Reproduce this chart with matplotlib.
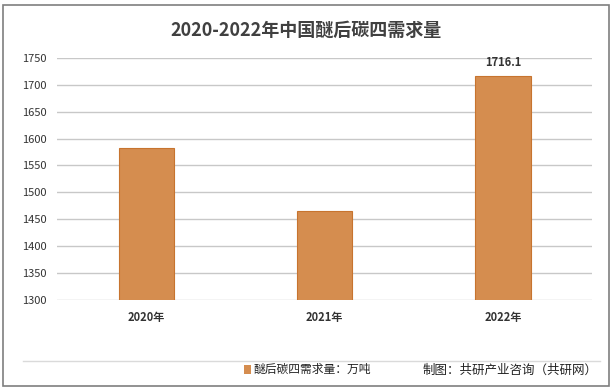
import matplotlib.pyplot as plt
from matplotlib.patches import Rectangle
from matplotlib.lines import Line2D

plt.rcParams['font.family'] = ['Noto Sans CJK SC', 'DejaVu Sans']

years = ["2020年", "2021年", "2022年"]
demand = [1583.0, 1465.0, 1716.1]
yticks = [1300, 1350, 1400, 1450, 1500, 1550, 1600, 1650, 1700, 1750]
title = "2020-2022年中国醚后碳四需求量"
legend_label = "醚后碳四需求量：万吨"
source = "制图：共研产业咨询（共研网）"

fig = plt.figure(figsize=(6.13, 3.91), dpi=100)
ax = fig.add_axes([0.093, 0.233, 0.873, 0.619])

x = range(len(years))
ax.bar(x, demand, width=0.31, color="#D58D4F", edgecolor="#C7742F", linewidth=0.8,
       zorder=3, label=legend_label)
ax.set_ylim(1300, 1750)
ax.set_xlim(-0.5, 2.5)
ax.set_yticks(yticks)
ax.set_xticks(list(x))
ax.set_xticklabels(years, fontsize=8, fontweight="bold", color="#333333")
ax.tick_params(axis="y", labelsize=8, colors="#333333", length=0, pad=25)
ax.tick_params(axis="x", length=0, pad=8)
for lab in ax.get_yticklabels():
    lab.set_horizontalalignment("left")
ax.grid(axis="y", color="#C8C8C8", linewidth=1, zorder=0)
for s in ax.spines.values():
    s.set_visible(False)

# only the last bar is labelled
ax.text(2, demand[2] + 25, f"{demand[2]:.1f}", ha="center", va="center",
        fontsize=8, color="#333333", fontweight="bold")

fig.text(0.5, 0.922, title, ha="center", va="center", fontsize=13,
         fontweight="bold", color="#404040")

# outer border and bottom rule
fig.add_artist(Rectangle((0.005, 0.013), 0.988, 0.975, transform=fig.transFigure,
                         fill=False, edgecolor="#7F7F7F", linewidth=1.2))
fig.add_artist(Line2D([0.038, 0.978], [0.077, 0.077], transform=fig.transFigure,
                      color="#DADADA", linewidth=1))

fig.add_artist(Rectangle((0.398, 0.044), 0.011, 0.022, transform=fig.transFigure,
                         facecolor="#D58D4F", edgecolor="none"))
fig.text(0.413, 0.055, legend_label, ha="left", va="center", fontsize=8.5,
         color="#222222", fontweight="medium")
fig.text(0.975, 0.052, source, ha="right", va="center", fontsize=9,
         color="#222222")

fig.savefig("out.png", dpi=100)
